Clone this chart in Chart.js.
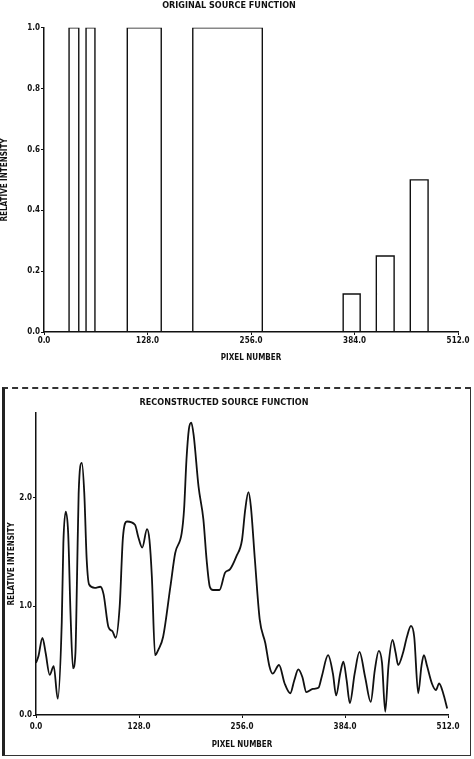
<!DOCTYPE html>
<html>
<head>
<meta charset="utf-8">
<script src="https://cdn.jsdelivr.net/npm/chart.js@4/dist/chart.umd.min.js"></script>
<style>
  body { margin: 0; background: #fff; width: 474px; height: 759px; position: relative; overflow: hidden; }
  canvas { position: absolute; left: 0; }
  #top { top: 0; }
  #bottom { top: 380px; }
  #box { position: absolute; left: 2px; top: 387px; width: 465px; height: 366px;
         border: 1.5px solid #333; border-left: 3px solid #222; border-top: 2px dashed #333; }
</style>
</head>
<body>
<div id="box"></div>
<canvas id="top" width="474" height="380"></canvas>
<canvas id="bottom" width="474" height="379"></canvas>
<script>
// original source: rectangular pulses
const pulseStart = [31, 52, 103, 184, 370, 411, 453];
const pulseEnd = [43, 63, 145, 270, 391, 433, 475];
const pulseHeight = [1, 1, 1, 1, 0.125, 0.25, 0.5];

// reconstructed source
const reconX = [0, 3, 8, 12, 17, 22, 27, 32, 34, 37, 40, 43, 46, 49, 51, 53, 57, 60, 63, 66,
  73, 80, 84, 90, 95, 99, 104, 108, 113, 123, 127, 132, 138, 141, 144, 148, 152, 158, 167, 173,
  181, 184, 187, 190, 193, 196, 202, 208, 212, 216, 220, 228, 235, 241, 249, 256, 260, 264, 267, 272,
  278, 285, 290, 294, 302, 309, 316, 321, 326, 331, 336, 344, 351, 355, 363, 369, 373, 378, 382, 386,
  390, 396, 402, 409, 416, 421, 426, 430, 434, 438, 443, 447, 450, 456, 461, 466, 470, 475, 479, 482,
  486, 492, 497, 501, 506, 511];
const reconY = [0.48, 0.54, 0.71, 0.57, 0.37, 0.45, 0.15, 0.85, 1.58, 1.87, 1.67, 0.91, 0.43, 0.57, 1.27, 2.04, 2.32, 2.04, 1.43, 1.20,
  1.17, 1.18, 1.11, 0.81, 0.77, 0.71, 1.00, 1.63, 1.78, 1.75, 1.64, 1.54, 1.71, 1.61, 1.27, 0.55, 0.60, 0.72, 1.18, 1.49,
  1.67, 1.89, 2.35, 2.63, 2.69, 2.57, 2.10, 1.80, 1.43, 1.18, 1.15, 1.15, 1.31, 1.34, 1.46, 1.61, 1.89, 2.05, 1.92, 1.43,
  0.88, 0.66, 0.45, 0.38, 0.46, 0.29, 0.20, 0.32, 0.42, 0.35, 0.21, 0.24, 0.25, 0.35, 0.55, 0.38, 0.18, 0.38, 0.49, 0.32,
  0.11, 0.38, 0.58, 0.35, 0.12, 0.41, 0.59, 0.48, 0.03, 0.45, 0.69, 0.57, 0.46, 0.57, 0.72, 0.82, 0.72, 0.20, 0.45, 0.55,
  0.45, 0.29, 0.23, 0.29, 0.20, 0.06];

const xTicks = [0, 128, 256, 384, 512];

const ink = '#111';
const font = { family: "'DejaVu Sans Condensed', 'DejaVu Sans', sans-serif", weight: 'bold', size: 8 };
const titleFont = { family: "'DejaVu Sans Condensed', 'DejaVu Sans', sans-serif", weight: 'bold', size: 9 };

// outline of the pulses along the baseline
const pulsePts = [{ x: 0, y: 0 }];
pulseStart.forEach((s, i) => {
  pulsePts.push({ x: s, y: 0 }, { x: s, y: pulseHeight[i] }, { x: pulseEnd[i], y: pulseHeight[i] }, { x: pulseEnd[i], y: 0 });
});
pulsePts.push({ x: 512, y: 0 });

function makeOptions(cfg) {
  return {
    responsive: false,
    animation: false,
    devicePixelRatio: 1,
    layout: { padding: { left: 0, right: cfg.right, top: 0, bottom: 0 } },
    plugins: {
      legend: { display: false },
      tooltip: { enabled: false },
      title: { display: true, text: cfg.title, color: ink, font: titleFont, padding: cfg.titlePad }
    },
    scales: {
      x: {
        type: 'linear', min: 0, max: 512,
        afterBuildTicks: s => { s.ticks = xTicks.map(v => ({ value: v })); },
        afterFit: s => { s.height = cfg.xHeight; },
        ticks: { color: ink, font, padding: cfg.xTickPad, maxRotation: 0, callback: v => v.toFixed(1) },
        grid: { drawOnChartArea: false, tickLength: 3, color: ink },
        border: { color: ink, width: 1.5 },
        title: { display: true, text: 'PIXEL NUMBER', color: ink, font, padding: { top: 0, bottom: cfg.xTitlePad } }
      },
      y: {
        min: 0, max: cfg.yMax,
        afterFit: s => { s.width = cfg.yWidth; },
        ticks: { color: ink, font, padding: 1, stepSize: cfg.yStep, includeBounds: false, callback: v => v.toFixed(1) },
        grid: { drawOnChartArea: false, tickLength: 3, color: ink },
        border: { color: ink, width: 1.5 },
        title: { display: true, text: 'RELATIVE INTENSITY', color: ink, font, padding: { top: cfg.yTitlePad, bottom: 0 } }
      }
    }
  };
}

new Chart(document.getElementById('top'), {
  type: 'line',
  data: {
    datasets: [{ data: pulsePts, borderColor: ink, borderWidth: 1.4, pointRadius: 0, tension: 0 }]
  },
  options: makeOptions({
    title: 'ORIGINAL SOURCE FUNCTION', titlePad: { top: 0, bottom: 17 }, right: 16,
    xHeight: 48, xTickPad: 1, xTitlePad: 17, yMax: 1.0, yStep: 0.2, yWidth: 44, yTitlePad: 0
  })
});

new Chart(document.getElementById('bottom'), {
  type: 'line',
  data: {
    datasets: [{
      data: reconX.map((x, i) => ({ x, y: reconY[i] })),
      borderColor: ink, borderWidth: 1.8, pointRadius: 0, cubicInterpolationMode: 'monotone'
    }]
  },
  options: makeOptions({
    title: 'RECONSTRUCTED SOURCE FUNCTION', titlePad: { top: 17, bottom: 5 }, right: 26,
    xHeight: 44, xTickPad: 4, xTitlePad: 9, yMax: 2.78, yStep: 1, yWidth: 36, yTitlePad: 7
  })
});
</script>
</body>
</html>
